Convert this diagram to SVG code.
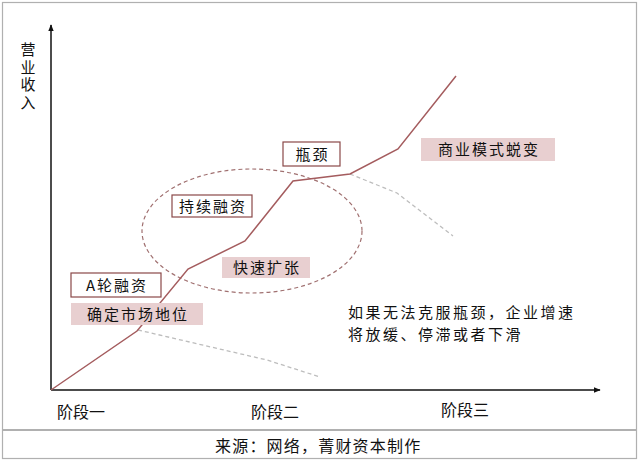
<svg xmlns="http://www.w3.org/2000/svg" width="640" height="462" viewBox="0 0 640 462">
<defs>
<style>
text{font-family:"Noto Sans CJK SC","Liberation Serif",serif;fill:#111}
.lbl{font-size:15px;letter-spacing:2px}
.ax{font-size:16px}
.box{fill:#fff;stroke:#8a4848;stroke-width:1.2}
.pink{fill:#e8cfd0}
.curve{fill:none;stroke:#a45c5e;stroke-width:1.5}
.gdash{fill:none;stroke:#bdbdbd;stroke-width:1.3;stroke-dasharray:4 3}
.axis{stroke:#111;stroke-width:1.5;fill:none}
</style>
<marker id="arr" viewBox="0 0 10 10" refX="9" refY="5" markerWidth="7" markerHeight="7" markerUnits="userSpaceOnUse" orient="auto">
<path d="M0,1 L10,5 L0,9 z" fill="#111"/>
</marker>
</defs>
<rect x="0" y="0" width="640" height="462" fill="#fff"/>
<rect x="2.5" y="2.5" width="634" height="456" fill="none" stroke="#b0b0b0" stroke-width="1.2"/>
<line x1="2.5" y1="430" x2="636.5" y2="430" stroke="#b0b0b0" stroke-width="2"/>

<g id="axes">
<line class="axis" x1="51" y1="390" x2="51" y2="25" marker-end="url(#arr)"/>
<line class="axis" x1="51" y1="390" x2="600" y2="390" marker-end="url(#arr)"/>
<text x="28" y="42" style="font-size:15px;writing-mode:vertical-rl;letter-spacing:2.5px">营业收入</text>
<text x="57" y="418" class="ax">阶段一</text>
<text x="251" y="418" class="ax">阶段二</text>
<text x="441" y="416" class="ax">阶段三</text>
</g>

<g id="connectors">
<ellipse cx="252" cy="231" rx="110" ry="62" fill="none" stroke="#a07070" stroke-width="1.2" stroke-dasharray="4 3"/>
<polyline class="gdash" points="138,330 267,360 320,377"/>
<polyline class="gdash" points="350,174 397,193 453,236"/>
<polyline class="curve" points="51,390 137,331 188,269 245,241 293,181 350,174 398,149 456,76"/>
</g>

<g id="node-a">
<rect class="box" x="71" y="273" width="90" height="24"/>
<text x="117" y="291" class="lbl" text-anchor="middle">A轮融资</text>
</g>
<g id="node-market">
<rect class="pink" x="71" y="303" width="132" height="22"/>
<text x="138" y="320" class="lbl" text-anchor="middle">确定市场地位</text>
</g>
<g id="node-finance">
<rect class="box" x="172" y="195" width="80" height="22"/>
<text x="213" y="212" class="lbl" text-anchor="middle">持续融资</text>
</g>
<g id="node-expand">
<rect class="pink" x="222" y="257" width="88" height="21"/>
<text x="267" y="273" class="lbl" text-anchor="middle">快速扩张</text>
</g>
<g id="node-bottleneck">
<rect class="box" x="283" y="142" width="57" height="24"/>
<text x="312.5" y="160" class="lbl" text-anchor="middle">瓶颈</text>
</g>
<g id="node-model">
<rect class="pink" x="421" y="138" width="134" height="23"/>
<text x="489" y="155" class="lbl" text-anchor="middle">商业模式蜕变</text>
</g>
<g id="note">
<text x="348" y="318" class="lbl" style="letter-spacing:2.5px">如果无法克服瓶颈，企业增速</text>
<text x="348" y="340" class="lbl" style="letter-spacing:2.5px">将放缓、停滞或者下滑</text>
</g>
<g id="footer">
<text x="215" y="452" class="ax" style="letter-spacing:1.2px">来源：网络，菁财资本制作</text>
</g>
</svg>
